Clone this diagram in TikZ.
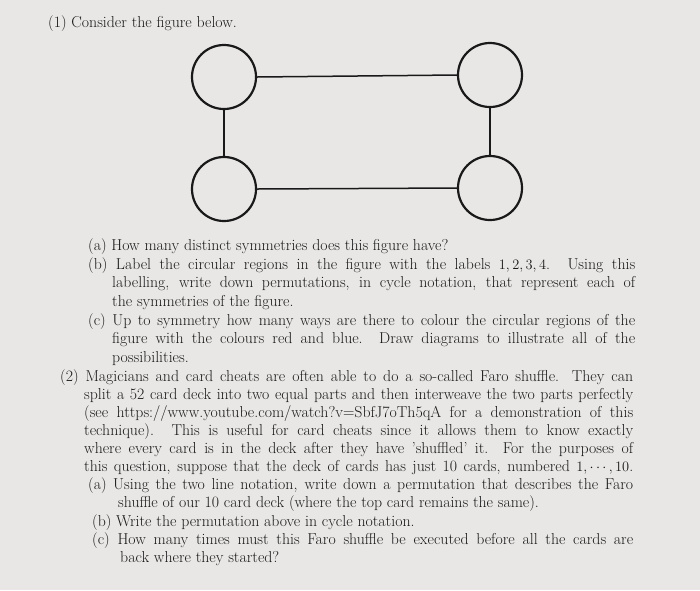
\documentclass[tikz,border=0pt]{standalone}
\begin{document}
\begin{tikzpicture}[x=1pt,y=-1pt,
  ln/.style={anchor=base west,inner sep=0pt,font=\fontsize{15.8}{18}\selectfont,text=black!90},
  ring/.style={draw=black!90,line width=2.2pt},
  bar/.style={draw=black!90,line width=1.5pt}]
\newcommand{\jline}[2]{\makebox[#1][s]{#2}}
\definecolor{paper}{RGB}{232,231,229}
\fill[paper] (0,0) rectangle (700,590);
\useasboundingbox (0,0) rectangle (700,590);
\node[ring,circle,minimum size=64pt,inner sep=0pt] (c1) at (224,77) {};
\node[ring,circle,minimum size=64pt,inner sep=0pt] (c2) at (490,75) {};
\node[ring,circle,minimum size=64pt,inner sep=0pt] (c3) at (224,189) {};
\node[ring,circle,minimum size=64pt,inner sep=0pt] (c4) at (490,188) {};
\draw[bar] (c1.east) -- (c2.west);
\draw[bar] (c3.east) -- (c4.west);
\draw[bar] (c1.south) -- (c3.north);
\draw[bar] (c2.south) -- (c4.north);
\node[ln] (t0) at (48,27) {(1) Consider the figure below.};
\node[ln] (t1) at (88,250) {(a) How many distinct symmetries does this figure have?};
\node[ln] (t2) at (88,269) {\jline{547pt}{(b) Label the circular regions in the figure with the labels $1,2,3,4$. Using this}};
\node[ln] (t3) at (112,287) {\jline{523pt}{labelling, write down permutations, in cycle notation, that represent each of}};
\node[ln] (t4) at (112,306) {the symmetries of the figure.};
\node[ln] (t5) at (88,325) {\jline{547pt}{(c) Up to symmetry how many ways are there to colour the circular regions of the}};
\node[ln] (t6) at (112,343) {\jline{523pt}{figure with the colours red and blue. Draw diagrams to illustrate all of the}};
\node[ln] (t7) at (112,362) {possibilities.};
\node[ln] (t8) at (60,381) {\jline{573pt}{(2) Magicians and card cheats are often able to do a so-called Faro shuffle. They can}};
\node[ln] (t9) at (84,399) {\jline{549pt}{split a 52 card deck into two equal parts and then interweave the two parts perfectly}};
\node[ln] (t10) at (84,417) {\jline{549pt}{(see https://www.youtube.com/watch?v=SbfJ7oTh5qA for a demonstration of this}};
\node[ln] (t11) at (84,435) {\jline{549pt}{technique). This is useful for card cheats since it allows them to know exactly}};
\node[ln] (t12) at (84,453) {\jline{549pt}{where every card is in the deck after they have 'shuffled' it. For the purposes of}};
\node[ln] (t13) at (84,471) {\jline{549pt}{this question, suppose that the deck of cards has just 10 cards, numbered $1,\cdots,10$.}};
\node[ln] (t14) at (88,489) {\jline{545pt}{(a) Using the two line notation, write down a permutation that describes the Faro}};
\node[ln] (t15) at (118,507) {shuffle of our 10 card deck (where the top card remains the same).};
\node[ln] (t16) at (92,526) {(b) Write the permutation above in cycle notation.};
\node[ln] (t17) at (92,544) {\jline{541pt}{(c) How many times must this Faro shuffle be executed before all the cards are}};
\node[ln] (t18) at (120,562) {back where they started?};
\end{tikzpicture}
\end{document}
